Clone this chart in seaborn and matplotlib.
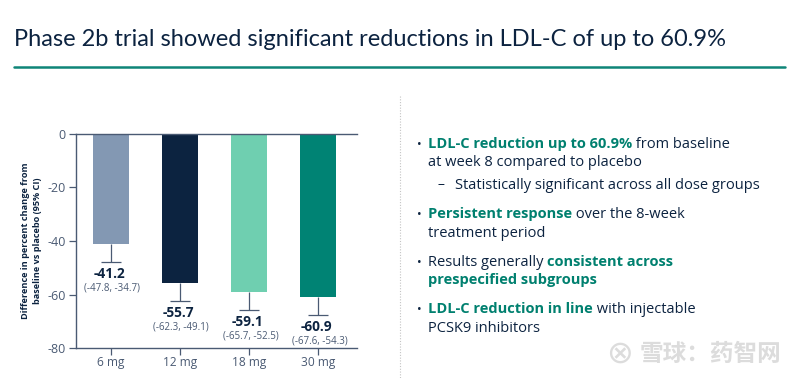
import matplotlib
matplotlib.use('Agg')
import matplotlib.pyplot as plt
import seaborn as sns
import pandas as pd

doses = ['6 mg', '12 mg', '18 mg', '30 mg']
ldl_diff = [-41.2, -55.7, -59.1, -60.9]
ci_low = [-47.8, -62.3, -65.7, -67.6]
ci_high = [-34.7, -49.1, -52.5, -54.3]
bar_colors = ['#8398b3', '#0c2340', '#6fcfb0', '#008374']
yticks = [0, -20, -40, -60, -80]

title = 'Phase 2b trial showed significant reductions in LDL-C of up to 60.9%'
ylabel = 'Difference in percent change from\nbaseline vs placebo (95% CI)'

# (text, bold) runs per line, with the line's left x and baseline y in pixels
bullets = [
    (428, 148, [('LDL-C reduction up to 60.9%', True), (' from baseline', False)]),
    (428, 166, [('at week 8 compared to placebo', False)]),
    (455, 189, [('Statistically significant across all dose groups', False)]),
    (428, 218, [('Persistent response', True), (' over the 8-week', False)]),
    (428, 237, [('treatment period', False)]),
    (428, 266, [('Results generally ', False), ('consistent across', True)]),
    (428, 284, [('prespecified subgroups', True)]),
    (428, 313, [('LDL-C reduction in line', True), (' with injectable', False)]),
    (428, 332, [('PCSK9 inhibitors', False)]),
]
bullet_y = [148, 218, 266, 313]

navy = '#0c2340'
teal = '#00806f'
grey = '#4a5a73'
W, H = 800, 378

sns.set_theme(style='white')
plt.rcParams['font.family'] = ['Open Sans', 'DejaVu Sans']
plt.rcParams['axes.unicode_minus'] = False

df = pd.DataFrame({'dose': doses, 'diff': ldl_diff})

fig = plt.figure(figsize=(8, 3.78), dpi=100)
ax = fig.add_axes([75.5 / W, 1 - 348 / H, (357 - 75.5) / W, (348 - 134) / H])

sns.barplot(data=df, x='dose', y='diff', hue='dose', palette=bar_colors,
            width=0.52, legend=False, ax=ax, saturation=1, linewidth=0)

for i, low in enumerate(ci_low):
    eb = ax.errorbar(i, ldl_diff[i], yerr=[[ldl_diff[i] - low], [0]], color=grey, lw=0.9,
                     capsize=7, capthick=0.9, zorder=1)
    eb[1][1].set_visible(False)  # only the lower cap
    ax.text(i - 0.02, low - 4.6, f'{ldl_diff[i]}', ha='center', va='center', fontsize=9.8,
            fontweight='bold', color=navy)
    ax.text(i + 0.02, low - 9.8, f'({low}, {ci_high[i]})', ha='center', va='center',
            fontsize=7, color=grey)

ax.set_xlim(-0.514, 3.565)
ax.set_ylim(-80, 0)
ax.set_yticks(yticks)
ax.set_xlabel('')
ax.set_ylabel(ylabel, fontsize=6.6, fontweight='bold', color=navy, labelpad=4, linespacing=1.35)
ax.tick_params(axis='y', length=5, width=0.9, color=grey, labelcolor=grey, labelsize=9, pad=2, left=True)
ax.tick_params(axis='x', length=5, width=0.9, color=grey, labelcolor=grey, labelsize=8.6, pad=1, bottom=True)
ax.spines['right'].set_visible(False)
for side in ['left', 'top', 'bottom']:
    ax.spines[side].set_color(grey)
    ax.spines[side].set_linewidth(1)

# header
fig.text(14 / W, 1 - 46 / H, title, fontsize=17.0, color=navy, fontfamily='Lato')
fig.add_artist(plt.Line2D([14 / W, 785 / W], [1 - 66.5 / H, 1 - 66.5 / H], color='#0f8578', lw=1.8))

# dotted divider
fig.add_artist(plt.Line2D([400 / W, 400 / W], [1 - 96 / H, 0], color='#c4c4c4', lw=0.8, ls=(0, (1, 1.5))))

# right panel text, runs placed one after another
renderer = fig.canvas.get_renderer()
for x, y, runs in bullets:
    cur = x
    for text, bold in runs:
        t = fig.text(cur / W, 1 - y / H, text, fontsize=10.5, color=teal if bold else navy,
                     fontweight='bold' if bold else 'normal')
        cur += t.get_window_extent(renderer).width

for y in bullet_y:
    fig.text(417 / W, 1 - y / H, '•', fontsize=9, color=navy)
fig.text(437 / W, 1 - 188 / H, '–', fontsize=10, color=navy)

# watermark
fig.text(640 / W, 1 - 361 / H, '雪球：药智网', fontsize=17, color='#dcdcdc',
         fontfamily=['Noto Sans CJK SC', 'DejaVu Sans'], fontweight='bold')
fig.text(606 / W, 1 - 363 / H, '⊗', fontsize=23, color='#dcdcdc', fontfamily='DejaVu Sans')

fig.savefig('out.png', dpi=100, facecolor='white')
